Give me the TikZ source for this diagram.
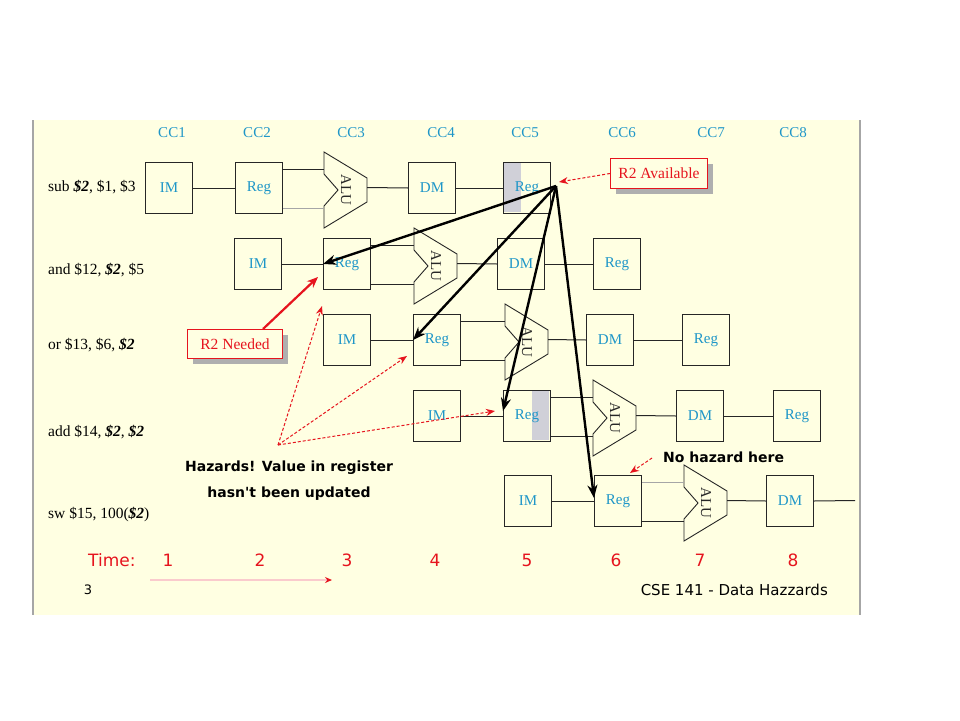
\documentclass[tikz,border=0pt]{standalone}
\usepackage{fontspec}
\setmainfont{Liberation Serif}
\newfontfamily\comicf{DejaVu Sans}
\usetikzlibrary{arrows.meta,calc}
\definecolor{bgyellow}{RGB}{255,255,226}
\definecolor{boxblue}{RGB}{30,150,200}
\definecolor{regshade}{RGB}{208,208,216}
\definecolor{shadowgray}{RGB}{175,175,175}
\definecolor{labred}{RGB}{230,20,30}
\newcommand\aluunit[3]{% name, left x, top y of the row
  \draw[alustyle] (#2,#3-10) -- (#2+43,#3+16) -- (#2+43,#3+40) -- (#2,#3+66)
    -- (#2,#3+44) -- (#2+14,#3+28) -- (#2,#3+12) -- cycle;
  \node[alutext] (#1) at (#2+22,#3+28) {ALU};
  \coordinate (#1a) at (#2,#3+7);
  \coordinate (#1b) at (#2,#3+46);
  \coordinate (#1o) at (#2+43,#3+25.5);
}
\begin{document}
\begin{tikzpicture}[x=1pt,y=-1pt,
  unit/.style={draw=black!85, line width=1pt, minimum width=47pt, minimum height=51pt,
    inner sep=0pt, anchor=north west, text=boxblue, font=\fontsize{15}{15}\selectfont},
  alustyle/.style={draw=black!85, line width=0.9pt},
  alutext/.style={rotate=-90, inner sep=0pt, font=\fontsize{15}{15}\selectfont, text=black!85},
  wire/.style={draw=black!85, line width=1pt},
  faintwire/.style={draw=black!35, line width=0.8pt},
  instr/.style={anchor=west, inner sep=0pt, font=\fontsize{15.5}{16}\selectfont},
  cclab/.style={inner sep=0pt, text=boxblue, font=\fontsize{15}{15}\selectfont},
  bigarrow/.style={draw=black, line width=2.4pt, -{Stealth[length=13pt,width=10pt]}},
  reddash/.style={draw=labred, line width=1pt, dash pattern=on 3pt off 2pt, -{Stealth[length=9pt,width=7pt]}},
  redbox/.style={draw=labred, line width=1pt, fill=bgyellow, text=labred, inner sep=0pt,
    font=\fontsize{15.5}{15.5}\selectfont},
  timelab/.style={inner sep=0pt, text=labred, font=\comicf\fontsize{17}{17}\selectfont},
  comictext/.style={inner sep=0pt, font=\comicf\bfseries\fontsize{14}{26}\selectfont, align=center}
]
\useasboundingbox (0,0) rectangle (960,720);
\fill[white] (0,0) rectangle (960,720);
\fill[bgyellow] (33,120) rectangle (860,615);
\draw[black!35, line width=1.5pt] (33,120) -- (33,615);
\draw[black!35, line width=1.5pt] (860,120) -- (860,615);

% clock cycle labels
\node[cclab] (cc1) at (172,133) {CC1};
\node[cclab] (cc2) at (257,133) {CC2};
\node[cclab] (cc3) at (351,133) {CC3};
\node[cclab] (cc4) at (441,133) {CC4};
\node[cclab] (cc5) at (525,133) {CC5};
\node[cclab] (cc6) at (622,133) {CC6};
\node[cclab] (cc7) at (711,133) {CC7};
\node[cclab] (cc8) at (793,133) {CC8};

% instruction labels
\node[instr] (i1) at (48,187) {sub \textbf{\textit{\$2}}, \$1, \$3};
\node[instr] (i2) at (48,270) {and \$12, \textbf{\textit{\$2}}, \$5};
\node[instr] (i3) at (48,345) {or \$13, \$6, \textbf{\textit{\$2}}};
\node[instr] (i4) at (48,432) {add \$14, \textbf{\textit{\$2}}, \textbf{\textit{\$2}}};
\node[instr] (i5) at (48,515) {sw \$15, 100(\textbf{\textit{\$2}})};

% gray shading in register files
\fill[regshade] (504,163) rectangle (521,212);
\fill[regshade] (532,391) rectangle (549,440);

% row 1
\node[unit] (im1) at (145,162) {IM};
\node[unit] (rg1) at (235,162) {Reg};
\aluunit{alu1}{324}{162}
\node[unit] (dm1) at (408,162) {DM};
\node[unit] (wb1) at (503,162) {Reg};
\draw[wire] (im1.east) -- (rg1.west);
\draw[wire] (rg1.east |- alu1a) -- (alu1a);
\draw[faintwire] (rg1.east |- alu1b) -- (alu1b);
\draw[wire] (alu1o) -- (dm1.west);
\draw[wire] (dm1.east) -- (wb1.west);

% row 2
\node[unit] (im2) at (234,238) {IM};
\node[unit] (rg2) at (323,238) {Reg};
\aluunit{alu2}{414}{238}
\node[unit] (dm2) at (497,238) {DM};
\node[unit] (wb2) at (593,238) {Reg};
\draw[wire] (im2.east) -- (rg2.west);
\draw[wire] (rg2.east |- alu2a) -- (alu2a);
\draw[wire] (rg2.east |- alu2b) -- (alu2b);
\draw[wire] (alu2o) -- (dm2.west);
\draw[wire] (dm2.east) -- (wb2.west);

% row 3
\node[unit] (im3) at (323,314) {IM};
\node[unit] (rg3) at (413,314) {Reg};
\aluunit{alu3}{505}{314}
\node[unit] (dm3) at (586,314) {DM};
\node[unit] (wb3) at (682,314) {Reg};
\draw[wire] (im3.east) -- (rg3.west);
\draw[wire] (rg3.east |- alu3a) -- (alu3a);
\draw[wire] (rg3.east |- alu3b) -- (alu3b);
\draw[wire] (alu3o) -- (dm3.west);
\draw[wire] (dm3.east) -- (wb3.west);

% row 4
\node[unit] (im4) at (413,390) {IM};
\node[unit] (rg4) at (503,390) {Reg};
\aluunit{alu4}{593}{390}
\node[unit] (dm4) at (676,390) {DM};
\node[unit] (wb4) at (773,390) {Reg};
\draw[wire] (im4.east) -- (rg4.west);
\draw[wire] (rg4.east |- alu4a) -- (alu4a);
\draw[wire] (rg4.east |- alu4b) -- (alu4b);
\draw[wire] (alu4o) -- (dm4.west);
\draw[wire] (dm4.east) -- (wb4.west);

% row 5
\node[unit] (im5) at (504,475) {IM};
\node[unit] (rg5) at (594,475) {Reg};
\aluunit{alu5}{684}{475}
\node[unit] (dm5) at (766,475) {DM};
\coordinate (end5) at (855,500.5);
\draw[wire] (im5.east) -- (rg5.west);
\draw[faintwire] (rg5.east |- alu5a) -- (alu5a);
\draw[wire] (rg5.east |- alu5b) -- (alu5b);
\draw[wire] (alu5o) -- (dm5.west);
\draw[wire] (dm5.east) -- (end5);

% R2 available callout
\fill[shadowgray] (616,164) rectangle (713,194);
\node[redbox, minimum width=97pt, minimum height=30pt, anchor=north west] (avail) at (610,158) {R2 Available};
\coordinate (src) at (556,186);
\draw[reddash] (avail.west) -- (559,182);

% R2 needed callout
\fill[shadowgray] (193,335) rectangle (288,364);
\node[redbox, minimum width=95pt, minimum height=29pt, anchor=north west] (needed) at (187,329) {R2 Needed};
\coordinate (needtip) at (318,277);
\draw[draw=labred, line width=2.2pt, -{Stealth[length=11pt,width=9pt]}] ($(needed.north)+(28,0)$) -- (needtip);

% forwarding arrows
\draw[bigarrow] (src) -- (rg2.west);
\draw[bigarrow] (src) -- (rg3.west);
\draw[bigarrow] (src) -- ($(rg4.west)+(0,-5)$);
\draw[bigarrow] (src) -- ($(rg5.west)+(0,-3)$);

% hazards
\coordinate (hz) at (278,445);
\coordinate (hzt1) at (322,306);
\coordinate (hzt2) at (407,356);
\coordinate (hzt3) at (495,411);
\draw[reddash] (hz) -- (hzt1);
\draw[reddash] (hz) -- (hzt2);
\draw[reddash] (hz) -- (hzt3);
\node[comictext] (hztext) at (289,481) {Hazards! Value in register\\hasn't been updated};

% no hazard
\node[comictext, anchor=west] (nohz) at (663,457) {No hazard here};
\draw[reddash] (652,458) -- (630,473);

% time axis
\node[timelab, anchor=west] (time) at (88,560) {Time:};
\node[timelab] (t1) at (168,560) {1};
\node[timelab] (t2) at (260,560) {2};
\node[timelab] (t3) at (347,560) {3};
\node[timelab] (t4) at (435,560) {4};
\node[timelab] (t5) at (527,560) {5};
\node[timelab] (t6) at (616,560) {6};
\node[timelab] (t7) at (700,560) {7};
\node[timelab] (t8) at (793,560) {8};
\coordinate (ta) at (150,580);
\coordinate (tb) at (332,580);
\draw[draw=labred!22, line width=1.2pt, -{Stealth[length=7pt,width=6pt,color=labred]}] (ta) -- (tb);

\node[inner sep=0pt, font=\comicf\fontsize{13}{13}\selectfont] (pg) at (88,590) {3};
\node[inner sep=0pt, anchor=east, font=\comicf\fontsize{15}{15}\selectfont] (foot) at (828,590) {CSE 141 - Data Hazzards};
\end{tikzpicture}
\end{document}
